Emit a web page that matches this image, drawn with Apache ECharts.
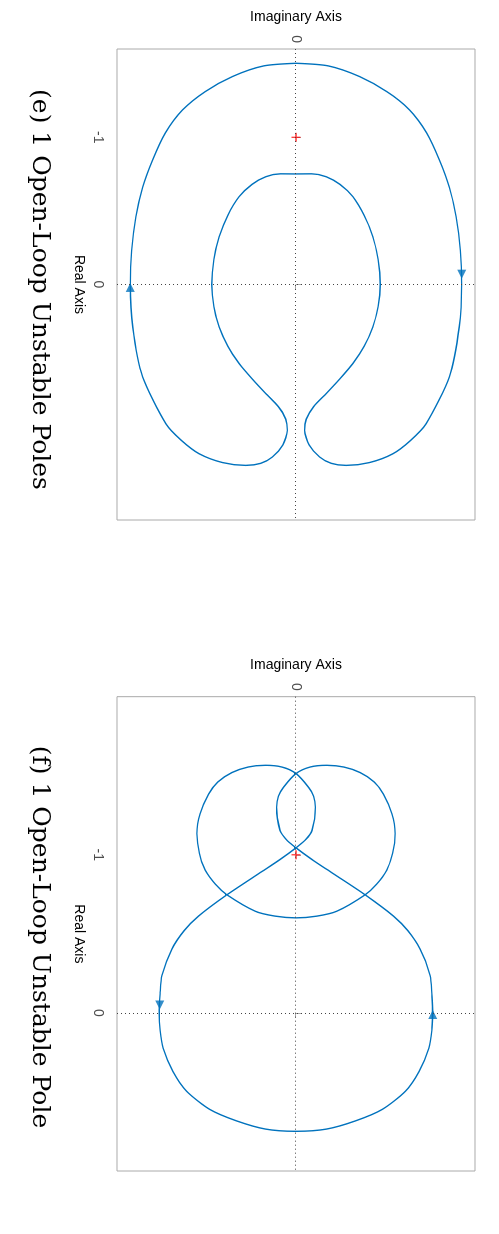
<!DOCTYPE html>
<html><head><meta charset="utf-8">
<script src="https://cdn.jsdelivr.net/npm/echarts@6/dist/echarts.min.js"></script>
<style>
body{margin:0;width:499px;height:1234px;overflow:hidden;background:#fff;position:relative}
.rot{position:absolute;left:0;height:499px;transform-origin:0 0;transform:translate(499px,0) rotate(90deg)}
</style></head><body>
<div id="e" class="rot" style="top:0;width:600px"></div>
<div id="f" class="rot" style="top:650px;width:584px"></div>
<script>
// Nyquist curves, [imag, real] pairs
var curveE = [[0,-1.503],[.22,-1.485],[.433,-1.413],[.62,-1.31],[.773,-1.186],[.89,-1.03],[.977,-.846],[1.045,-.66],[1.091,-.460],[1.12,-.23],[1.129,0],[1.113,.288],[1.045,.628],[.887,.946],[.78,1.06],[.660,1.150],[.50,1.21],[.342,1.229],[.24,1.215],[.161,1.172],[.09,1.09],[.059,.991],[.07,.915],[.120,.83],[.206,.741],[.30,.64],[.388,.537],[.465,.42],[.524,.288],[.560,.15],[.574,0],[.560,-.17],[.524,-.324],[.465,-.47],[.388,-.596],[.300,-.68],[.206,-.732],[.105,-.752],[0,-.751],
  [-.105,-.752],[-.206,-.732],[-.300,-.68],[-.388,-.596],[-.465,-.47],[-.524,-.324],[-.560,-.17],[-.574,0],[-.560,.15],[-.524,.288],[-.465,.42],[-.388,.537],[-.30,.64],[-.206,.741],[-.120,.83],[-.07,.915],[-.059,.991],[-.09,1.09],[-.161,1.172],[-.24,1.215],[-.342,1.229],[-.50,1.21],[-.660,1.150],[-.78,1.06],[-.887,.946],[-1.045,.628],[-1.113,.288],[-1.129,0],[-1.12,-.23],[-1.091,-.460],[-1.045,-.66],[-.977,-.846],[-.89,-1.03],[-.773,-1.186],[-.62,-1.31],[-.433,-1.413],[-.22,-1.485],[0,-1.503]];
var curveF = [[.856,0],[.850,-.12],[.839,-.236],[.777,-.403],[.700,-.52],[.610,-.612],[.432,-.747],[.213,-.894],[.10,-.97],[0,-1.044],[-.060,-1.095],[-.100,-1.154],[-.121,-1.301],[-.110,-1.37],[-.079,-1.426],[0,-1.514],[.088,-1.555],[.192,-1.566],[.300,-1.555],[.401,-1.520],[.490,-1.46],[.547,-1.384],[.600,-1.26],[.620,-1.134],[.605,-1.01],[.568,-.904],[.505,-.815],[.432,-.747],[.255,-.643],[.13,-.612],[0,-.601],
  [-.13,-.612],[-.255,-.643],[-.432,-.747],[-.505,-.815],[-.568,-.904],[-.605,-1.01],[-.620,-1.134],[-.600,-1.26],[-.547,-1.384],[-.490,-1.46],[-.401,-1.520],[-.300,-1.555],[-.192,-1.566],[-.088,-1.555],[0,-1.514],[.079,-1.426],[.110,-1.37],[.121,-1.301],[.100,-1.154],[.060,-1.095],[0,-1.044],[-.10,-.97],[-.213,-.894],[-.432,-.747],[-.610,-.612],[-.700,-.52],[-.777,-.403],[-.839,-.236],[-.850,-.12],[-.856,0],
  [-.850,.11],[-.831,.223],[-.770,.37],[-.685,.495],[-.540,.61],[-.372,.683],[-.19,.735],[0,.749],[.19,.735],[.372,.683],[.540,.61],[.685,.495],[.770,.37],[.831,.223],[.850,.11],[.856,0]];
// arrows: [imag, real, rotate]
var arrowsE = [[1.129,-0.07,-90],[-1.129,0.02,90]];
var arrowsF = [[.856,0.01,90],[-.852,-0.05,-90]];
var realTicks = [-1, 0];
var imagTicks = [0];
var titles = ['(e) 1 Open-Loop Unstable Poles', '(f) 1 Open-Loop Unstable Pole'];

var blue = '#0072BD';
var plus = 'path://M4.3,0h1.4v10h-1.4zM0,4.3h10v1.4h-10z';

function build(id, curve, arrows, title, gl, gw, rmin, rmax, imax) {
  var chart = echarts.init(document.getElementById(id), null, {renderer: 'canvas'});
  var axisText = {color: '#4d4d4d', fontSize: 14, fontFamily: 'Liberation Sans'};
  chart.setOption({
    animation: false,
    title: {text: title, left: gl + gw / 2, textAlign: 'center', top: 442,
      textStyle: {fontFamily: 'DejaVu Serif', fontWeight: 'normal', fontSize: 25, color: '#000'}},
    grid: {left: gl, width: gw, top: 24, height: 358, show: true, borderColor: '#aaa', borderWidth: 1, backgroundColor: '#fff'},
    xAxis: {type: 'value', min: rmin, max: rmax, name: 'Real Axis', nameLocation: 'middle', nameGap: 30,
      nameTextStyle: {color: '#000', fontSize: 14, fontFamily: 'Liberation Sans'},
      axisLine: {show: false}, splitLine: {show: false},
      axisTick: {inside: true, length: 5, lineStyle: {color: '#aaa'}, customValues: realTicks},
      axisLabel: Object.assign({customValues: realTicks, margin: 12}, axisText)},
    yAxis: {type: 'value', min: -imax, max: imax, name: 'Imaginary Axis', nameLocation: 'middle', nameGap: 22,
      nameTextStyle: {color: '#000', fontSize: 14, fontFamily: 'Liberation Sans'},
      axisLine: {show: false}, splitLine: {show: false},
      axisTick: {inside: true, length: 5, lineStyle: {color: '#aaa'}, customValues: imagTicks},
      axisLabel: Object.assign({customValues: imagTicks, margin: 6}, axisText)},
    series: [
      {type: 'line', data: curve.map(function (p) { return [p[1], p[0]]; }), smooth: 0.25, showSymbol: false,
        lineStyle: {color: blue, width: 1.4},
        markLine: {silent: true, symbol: 'none', label: {show: false},
          lineStyle: {color: '#444', type: [1, 3], width: 1},
          data: [{xAxis: 0}, {yAxis: 0}]}},
      {type: 'scatter', symbol: 'triangle', symbolSize: 9, itemStyle: {color: blue},
        data: arrows.map(function (a) { return {value: [a[1], a[0]], symbolRotate: a[2]}; })},
      {type: 'scatter', symbol: plus, symbolSize: 9, itemStyle: {color: '#f00'}, data: [[-1, 0]]}
    ]
  });
}
build('e', curveE, arrowsE, titles[0], 49, 471, -1.6, 1.6, 1.22);
build('f', curveF, arrowsF, titles[1], 43, 478, -2, 1, 1.12);
</script></body></html>
